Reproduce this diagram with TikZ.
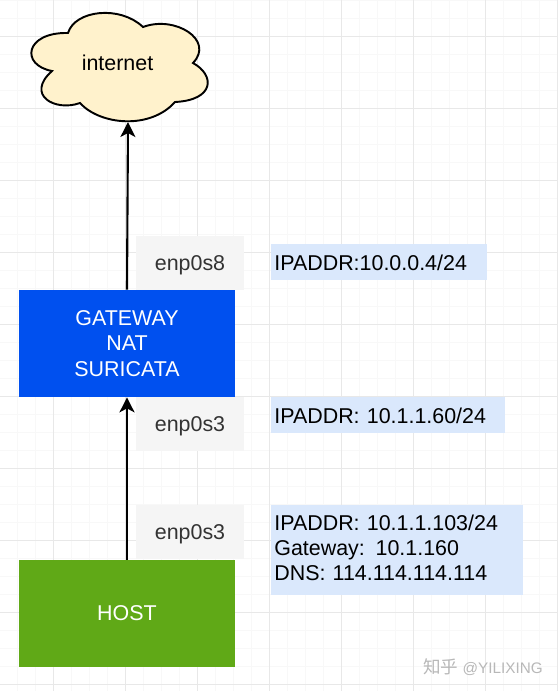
\documentclass[tikz,border=0pt]{standalone}
\usepackage{fontspec}
\setmainfont{Liberation Sans}
\newfontfamily\cjk{Noto Sans CJK SC}
\usetikzlibrary{arrows.meta}
\definecolor{gridmajor}{HTML}{E8E8E8}
\definecolor{gridminor}{HTML}{F8F8F8}
\definecolor{cloudfill}{HTML}{FFF2CC}
\definecolor{gatewayblue}{HTML}{0050EF}
\definecolor{hostgreen}{HTML}{60A917}
\definecolor{portgray}{HTML}{F5F5F5}
\definecolor{noteblue}{HTML}{DAE8FC}
\begin{document}
\begin{tikzpicture}[
    x=0.02cm, y=-0.02cm,
    >={Stealth[length=3mm,width=3mm,inset=0.8mm]},
    box/.style={
        minimum width=4.32cm,
        minimum height=2.14cm,
        align=center,
        text=white,
        font=\fontsize{12.2}{14.4}\selectfont
    },
    port/.style={
        fill=portgray,
        minimum width=2.16cm,
        minimum height=1.08cm,
        text depth=0pt,
        text=black!80,
        font=\fontsize{12.2}{14.4}\selectfont
    },
    note/.style={
        fill=noteblue,
        anchor=north west,
        inner xsep=0.06cm,
        inner ysep=0pt,
        align=left,
        font=\fontsize{12.2}{14.2}\selectfont
    },
    arr/.style={->, line width=1.2pt}
]
    \useasboundingbox (0,0) rectangle (558,691);
    \fill[white] (0,0) rectangle (558,691);

    % grid
    \foreach \x in {-1,17,...,557} \draw[gridminor, line width=0.4pt] (\x,0) -- (\x,691);
    \foreach \y in {0,18,...,690} \draw[gridminor, line width=0.4pt] (0,\y) -- (558,\y);
    \foreach \x in {53,125,...,557} \draw[gridmajor, line width=0.5pt] (\x,0) -- (\x,691);
    \foreach \y in {36,108,...,684} \draw[gridmajor, line width=0.5pt] (0,\y) -- (558,\y);

    % cloud
    \draw[fill=cloudfill, line width=1.1pt]
        (68,33) .. controls (75,10) and (120,5) .. (143,27)
        .. controls (175,15) and (215,40) .. (193,63)
        .. controls (215,75) and (215,100) .. (175,102)
        .. controls (150,130) and (100,125) .. (80,103)
        .. controls (55,112) and (25,95) .. (52,71)
        .. controls (20,65) and (25,32) .. (68,33) -- cycle;
    \node[font=\fontsize{12.2}{14.4}\selectfont] (internet) at (117.5,63) {internet};
    \coordinate (cloudbottom) at (128,122);

    \node[box, fill=gatewayblue] (gateway) at (127,343.5) {GATEWAY\\NAT\\SURICATA};
    \node[box, fill=hostgreen] (host) at (127,613.5) {HOST};

    \node[port] (portgw) at (190,263) {enp0s8};
    \node[port] (portin) at (190,424) {enp0s3};
    \node[port] (porthost) at (190,532) {enp0s3};

    \node[note, minimum height=0.72cm, text width=4.2cm] (notegw) at (271,244) {IPADDR:10.0.0.4/24};
    \node[note, minimum height=0.72cm, text width=4.56cm] (notein) at (271,397) {IPADDR: 10.1.1.60/24};
    \node[note, minimum height=1.8cm, text width=4.92cm] (notehost) at (271,505)
        {IPADDR: 10.1.1.103/24\\Gateway: 10.1.160\\DNS: 114.114.114.114\rule[-3.4pt]{0pt}{3.4pt}};

    \draw[arr] (host.north) -- (gateway.south);
    \draw[arr] (gateway.north) -- (cloudbottom);

    \node[anchor=east, text=black!28, font=\fontsize{8.7}{10}\selectfont] (mark) at (549,667)
        {{\cjk\fontsize{10}{10}\selectfont 知乎} @YILIXING};
\end{tikzpicture}
\end{document}
